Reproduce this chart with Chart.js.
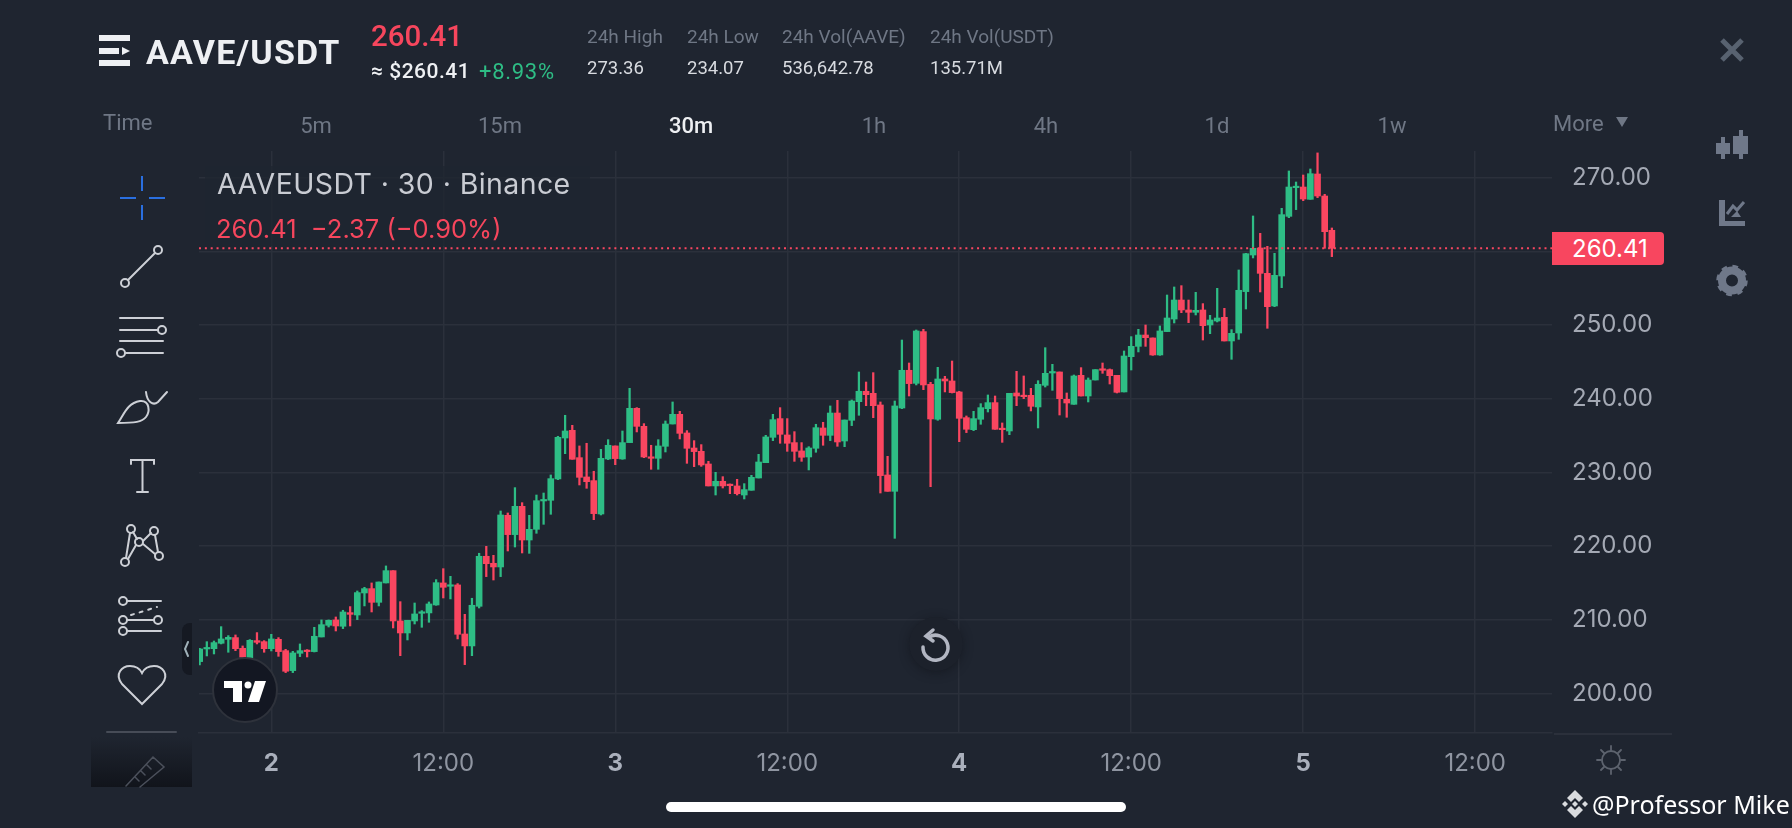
<!DOCTYPE html>
<html>
<head>
<meta charset="utf-8">
<title>AAVE/USDT</title>
<script src="https://cdn.jsdelivr.net/npm/chart.js@4"></script>
<style>
    html, body { margin: 0; padding: 0; background: #1f2530; }
    body { position: relative; width: 1792px; height: 828px; overflow: hidden; font-family: Roboto, sans-serif; }
    canvas { position: absolute; left: 0; top: 0; }
    svg { position: absolute; left: 0; top: 0; }
    .t { position: absolute; white-space: nowrap; line-height: 1; }
    .c { transform: translateX(-50%); }
    .head { font-size: 19px; color: #6f7785; }
    .val { font-size: 18.500px; color: #d8dbe0; }
    .tab { font-size: 22px; color: #6f7785; }
</style>
</head>
<body>
<canvas id="chart" width="1792" height="828"></canvas>

<!-- header -->
<div class="t" style="left:146px;top:35px;font-size:34px;font-weight:700;color:#eef0f3;letter-spacing:1.2px">AAVE/USDT</div>
<div class="t" style="left:371px;top:22px;font-size:29.500px;font-weight:500;color:#f6465d">260.41</div>
<div class="t" style="left:371px;top:61px;font-size:21px;font-weight:500;color:#eef0f3;letter-spacing:.5px">≈ $260.41</div>
<div class="t" style="left:479px;top:61px;font-size:22px;color:#2ebd85;letter-spacing:.7px">+8.93%</div>
<div class="t head" style="left:587px;top:27px">24h High</div>
<div class="t head" style="left:687px;top:27px">24h Low</div>
<div class="t head" style="left:782px;top:27px">24h Vol(AAVE)</div>
<div class="t head" style="left:930px;top:27px">24h Vol(USDT)</div>
<div class="t val" style="left:587px;top:59px">273.36</div>
<div class="t val" style="left:687px;top:59px">234.07</div>
<div class="t val" style="left:782px;top:59px">536,642.78</div>
<div class="t val" style="left:930px;top:59px">135.71M</div>

<!-- interval tabs -->
<div class="t tab" style="left:103px;top:112px">Time</div>
<div class="t tab c" style="left:316px;top:115px">5m</div>
<div class="t tab c" style="left:500px;top:115px">15m</div>
<div class="t tab c" style="left:691px;top:115px;color:#eef0f3;font-weight:500">30m</div>
<div class="t tab c" style="left:874px;top:115px">1h</div>
<div class="t tab c" style="left:1046px;top:115px">4h</div>
<div class="t tab c" style="left:1217px;top:115px">1d</div>
<div class="t tab c" style="left:1392px;top:115px">1w</div>
<div class="t tab" style="left:1553px;top:113px">More</div>

<!-- study legend -->
<div style="position:absolute;left:205px;top:166px;width:385px;height:80px;background:rgba(31,37,48,.75)"></div>
<div class="t" style="left:217px;top:170px;font-family:Inter;font-size:28.500px;color:#c9ccd3;letter-spacing:.4px">AAVEUSDT · 30 · Binance</div>
<div class="t" style="left:216px;top:216px;font-family:Inter;font-size:25.500px;color:#f6465d">260.41&nbsp; −2.37 (−0.90%)</div>

<!-- price tag -->
<div style="position:absolute;left:1552px;top:232px;width:112px;height:33px;background:#f8465f;border-radius:0 4px 4px 0"></div>
<div class="t" style="left:1572px;top:237px;font-family:Inter;font-size:24px;color:#fff">260.41</div>
<div style="position:absolute;left:1554px;top:733px;width:118px;height:1.5px;background:#2b303b"></div>

<!-- left tool bar bits -->
<div style="position:absolute;left:182px;top:623px;width:10px;height:52px;background:#151922;border-radius:8px 0 0 8px"></div>
<div style="position:absolute;left:91px;top:737px;width:101px;height:50px;background:linear-gradient(#1f2530,#11141b)"></div>
<div style="position:absolute;left:909px;top:617px;width:54px;height:54px;border-radius:50%;background:#1c212b;box-shadow:0 2px 10px rgba(15,18,24,.5)"></div>

<svg width="1792" height="828" fill="none" stroke-linecap="round">
    <!-- menu -->
    <g fill="#eef0f3" stroke="none">
        <rect x="99" y="35" width="31" height="6"/>
        <rect x="99" y="48" width="20" height="6"/>
        <polygon points="122,47 130,51 122,55"/>
        <rect x="99" y="60" width="31" height="6"/>
    </g>
    <!-- crosshair -->
    <g stroke="#2a6fe0" stroke-width="2" stroke-linecap="butt">
        <path d="M142 176V191M142 205V220M120 198H136M149 198H165"/>
    </g>
    <g stroke="#cdd0d6" stroke-width="2">
        <!-- trend line -->
        <circle cx="125" cy="283" r="4"/><circle cx="158" cy="250" r="4"/><path d="M128 280L155 253"/>
        <!-- fib -->
        <path d="M120 318H163M120 330H158M120 341H163M125 353H163"/>
        <circle cx="162" cy="330" r="4"/><circle cx="121" cy="353" r="4"/>
        <!-- brush -->
        <path d="M118 423C125 412 128 403 140 401C150 400 150 412 146 417C142 422 135 423 118 423Z"/>
        <path d="M146 392C147 402 153 406 158 402L167 392"/>
        <!-- text -->
        <path d="M131 464V460H154V464M142.500 460V492M137 492H148"/>
        <!-- pattern -->
        <circle cx="131" cy="529" r="4"/><circle cx="154" cy="531" r="4"/><circle cx="139" cy="542" r="4"/><circle cx="125" cy="562" r="4"/><circle cx="159" cy="556" r="4"/>
        <path d="M130 533L126 558M133 532L137 539M143 541L151 533M155 535L158 552M143 544L155 554M136 545L128 559"/>
        <!-- prediction -->
        <circle cx="123" cy="601" r="4"/><circle cx="123" cy="620" r="4"/><circle cx="158" cy="620" r="4"/><circle cx="123" cy="631" r="4"/>
        <path d="M127 601H161M127 620H154M127 631H161"/>
        <path d="M131 615L157 607" stroke-dasharray="3 6"/>
        <!-- heart -->
        <path d="M142 704L122 684C114 674 122 666 130 666C136 666 140 669 142 673C144 669 148 666 154 666C162 666 170 674 162 684Z"/>
    </g>
    <path d="M107 732H176" stroke="#474c57" stroke-width="2"/>
    <path d="M188 642L185 649L188 656" stroke="#9fb0b8" stroke-width="2"/>
    <!-- ruler -->
    <path d="M126 786L153 757L164 767L140 787M135 777L139 781M141 771L145 775M147 765L151 769" stroke="#4b505b" stroke-width="1.500"/>
    <!-- tradingview badge -->
    <circle cx="245" cy="690" r="32" fill="#131722" stroke="#2e323b" stroke-width="2"/>
    <g fill="#fff" stroke="none">
        <polygon points="224,681 242,681 242,702 233,702 233,688 224,688"/>
        <circle cx="248" cy="685" r="3.500"/>
        <polygon points="255,681 266,681 259,702 248,702"/>
    </g>
    <!-- replay -->
    <path d="M929 637A12.500 12.500 0 1 1 923 647" stroke="#b2b6c2" stroke-width="3.500"/>
    <path d="M933 630L926 636L933 641" stroke="#b2b6c2" stroke-width="3.500"/>
    <!-- more arrow -->
    <polygon points="1616,117 1628,117 1622,127" fill="#6f7785"/>
    <!-- right icons -->
    <path d="M1722 40L1742 60M1742 40L1722 60" stroke="#586270" stroke-width="5" stroke-linecap="butt"/>
    <g fill="#6f7889" stroke="none">
        <rect x="1716" y="143" width="14" height="11"/><rect x="1721" y="137" width="4" height="22"/>
        <rect x="1733" y="136" width="15" height="18"/><rect x="1739" y="130" width="4" height="29"/>
        <path d="M1719 200H1725V221H1745V226H1719Z"/>
        <polygon points="1731,217 1737,211 1741,217"/>
    </g>
    <path d="M1727 214L1733 206L1737 210L1744 202" stroke="#6f7889" stroke-width="3" stroke-linecap="butt"/>
    <circle cx="1732" cy="280.500" r="10" stroke="#6f7889" stroke-width="8"/>
    <circle cx="1732" cy="280.500" r="14" stroke="#6f7889" stroke-width="3.500" stroke-dasharray="5.500 5.500" stroke-linecap="butt"/>
    <!-- theme toggle -->
    <circle cx="1611" cy="760" r="9" stroke="#5d636e" stroke-width="1.800"/>
    <path d="M1611 746V750M1611 770V774M1597 760H1601M1621 760H1625M1601 750L1604 753M1618 767L1621 770M1621 750L1618 753M1604 767L1601 770" stroke="#5d636e" stroke-width="1.800"/>
    <!-- home bar -->
    <rect x="666" y="802" width="460" height="10" rx="5" fill="#fff"/>
    <!-- watermark logo -->
    <g fill="#d9dbde" stroke="none">
        <polygon points="1575,790 1583,798 1579,802 1575,798 1571,802 1567,798"/>
        <polygon points="1575,818 1583,810 1579,806 1575,810 1571,806 1567,810"/>
        <polygon points="1575,801 1578,804 1575,807 1572,804"/>
        <polygon points="1565,801 1568,804 1565,807 1562,804"/>
        <polygon points="1585,801 1588,804 1585,807 1582,804"/>
    </g>
</svg>
<div class="t" style="left:1592px;top:792px;font-family:'Noto Sans';font-size:25px;color:#fff">@Professor Mike</div>

<script>
// half-hour slots counted from the 2nd 00:00
const barSlots = [
    -10, -9, -8, -7, -6, -5, -4, -3, -2, -1,
    0, 1, 2, 3, 4, 5, 6, 7, 8, 9,
    10, 11, 12, 13, 14, 15, 16, 17, 18, 19,
    20, 21, 22, 23, 24, 25, 26, 27, 28, 29,
    30, 31, 32, 33, 34, 35, 36, 37, 38, 39,
    40, 41, 42, 43, 44, 45, 46, 47, 48, 49,
    50, 51, 52, 53, 54, 55, 56, 57, 58, 59,
    60, 61, 62, 63, 64, 65, 66, 67, 68, 69,
    70, 71, 72, 73, 74, 75, 76, 77, 78, 79,
    80, 81, 82, 83, 84, 85, 86, 87, 88, 89,
    90, 91, 92, 93, 94, 95, 96, 97, 98, 99,
    100, 101, 102, 103, 104, 105, 106, 107, 108, 109,
    110, 111, 112, 113, 114, 115, 116, 117, 118, 119,
    120, 121, 122, 123, 124, 125, 126, 127, 128, 129,
    130, 131, 132, 133, 134, 135, 136, 137, 138, 139,
    140, 141, 142, 143, 144, 145, 146, 147, 148,
];

const opens = [
    204.30, 206.02, 206.06, 206.79, 207.33, 207.56, 206.11, 204.84, 207.15, 207.01,
    206.06, 207.33, 205.79, 203.08, 205.43, 205.84, 205.66, 207.65, 209.23, 209.96,
    209.10, 210.95, 210.63, 213.62, 214.21, 212.35, 214.98, 216.65, 209.82, 208.19,
    209.82, 210.86, 210.91, 211.99, 214.98, 214.53, 214.71, 208.05, 206.43, 211.81,
    218.60, 217.65, 217.15, 224.16, 221.54, 225.38, 220.81, 222.26, 226.11, 226.20,
    229.10, 234.66, 235.70, 231.99, 229.37, 228.87, 224.34, 231.81, 233.58, 231.81,
    234.03, 238.69, 236.24, 232.08, 231.90, 233.53, 236.56, 237.87, 235.34, 233.30,
    232.85, 231.13, 228.15, 228.78, 228.37, 228.15, 226.92, 227.56, 229.23, 231.31,
    234.75, 237.29, 235.07, 234.03, 232.90, 232.08, 233.26, 236.02, 235.02, 238.05,
    234.25, 237.06, 239.59, 241.00, 240.72, 239.14, 229.64, 227.42, 238.73, 243.85,
    242.08, 249.10, 241.95, 237.20, 242.67, 242.40, 240.91, 237.42, 235.79, 237.20,
    238.64, 239.46, 235.97, 235.61, 240.77, 240.45, 240.45, 238.87, 241.81, 243.48,
    243.62, 239.91, 239.23, 243.17, 240.36, 242.53, 243.98, 243.94, 243.17, 240.91,
    245.70, 247.10, 248.64, 248.24, 245.93, 249.10, 250.81, 253.39, 252.04, 251.72,
    252.04, 250.00, 250.54, 251.04, 247.83, 248.91, 254.53, 259.50, 260.45, 257.01,
    252.58, 256.65, 264.75, 268.64, 268.73, 267.06, 270.50, 267.51, 262.85,
];

const highs = [
    206.11, 207.01, 207.10, 209.05, 207.83, 207.92, 206.43, 207.29, 208.24, 207.15,
    208.01, 207.56, 205.97, 205.70, 206.70, 205.93, 208.96, 209.96, 209.96, 210.36,
    211.27, 211.77, 213.89, 214.39, 214.98, 215.11, 217.29, 216.65, 212.44, 209.91,
    212.26, 211.22, 212.40, 215.43, 216.92, 215.88, 214.89, 210.72, 212.90, 219.01,
    219.95, 218.73, 224.75, 224.48, 227.92, 225.88, 224.16, 226.92, 227.19, 229.64,
    234.89, 237.74, 236.38, 233.58, 233.94, 230.14, 233.12, 234.43, 233.58, 235.61,
    241.40, 238.78, 236.61, 233.67, 234.43, 236.97, 239.55, 238.28, 235.66, 234.30,
    233.76, 231.49, 230.00, 229.41, 228.42, 229.05, 228.46, 229.59, 232.44, 235.02,
    237.87, 238.78, 237.29, 235.52, 234.03, 233.48, 236.52, 236.79, 239.01, 239.77,
    237.10, 239.82, 243.62, 242.26, 243.53, 239.55, 232.17, 239.68, 247.96, 244.84,
    249.32, 249.41, 242.22, 244.25, 243.03, 245.11, 241.00, 237.65, 238.28, 239.32,
    240.50, 240.36, 236.70, 240.72, 243.71, 243.08, 241.40, 242.44, 246.92, 244.66,
    243.62, 240.77, 243.21, 244.21, 242.81, 243.94, 244.84, 244.03, 243.17, 246.47,
    248.42, 249.41, 250.00, 248.24, 249.87, 254.07, 255.16, 255.34, 253.39, 254.43,
    252.90, 251.31, 254.98, 252.26, 249.37, 257.47, 259.73, 264.80, 262.44, 260.68,
    259.73, 265.84, 270.91, 269.41, 270.36, 271.18, 273.36, 267.74, 263.17,
];

const lows = [
    203.85, 205.07, 205.34, 206.70, 205.57, 205.79, 204.66, 204.75, 206.70, 205.57,
    205.75, 205.02, 202.81, 202.81, 204.98, 204.93, 205.61, 207.65, 209.00, 208.46,
    208.78, 209.14, 210.00, 211.86, 211.04, 211.86, 214.98, 208.87, 205.11, 207.24,
    209.41, 208.96, 209.64, 211.95, 212.94, 212.81, 207.38, 203.89, 205.11, 211.58,
    215.84, 215.38, 215.84, 219.32, 219.86, 219.05, 219.00, 221.72, 222.94, 224.30,
    229.00, 232.53, 231.77, 228.28, 227.83, 223.57, 224.21, 231.72, 231.04, 231.77,
    234.03, 235.48, 231.99, 230.41, 230.41, 232.76, 236.56, 234.53, 231.22, 230.77,
    230.81, 228.15, 226.92, 227.87, 227.10, 226.92, 226.38, 227.56, 229.23, 231.31,
    234.30, 233.94, 232.85, 231.49, 231.49, 230.32, 232.72, 233.67, 234.30, 233.53,
    233.48, 236.34, 237.74, 239.05, 237.42, 227.19, 227.42, 221.04, 238.64, 240.36,
    241.86, 241.22, 228.05, 237.06, 240.91, 240.77, 234.16, 235.39, 235.66, 236.52,
    238.19, 235.84, 234.07, 235.11, 239.05, 240.00, 238.33, 236.02, 241.58, 241.13,
    237.78, 237.47, 239.23, 240.36, 239.55, 242.53, 243.44, 241.99, 240.77, 240.91,
    243.89, 246.34, 247.10, 245.88, 245.88, 249.10, 250.27, 251.67, 250.32, 251.36,
    247.96, 248.82, 250.41, 247.83, 245.34, 248.05, 252.17, 259.10, 254.48, 249.55,
    252.49, 255.07, 264.57, 265.66, 266.88, 267.06, 267.29, 260.41, 259.28,
];

const closes = [
    206.02, 206.20, 206.88, 207.38, 207.60, 206.06, 204.89, 207.19, 206.92, 206.06,
    207.38, 205.66, 202.99, 205.48, 205.79, 205.66, 207.74, 209.32, 209.91, 209.14,
    211.04, 210.72, 213.67, 214.21, 212.35, 215.11, 216.65, 209.82, 208.19, 209.91,
    210.77, 211.04, 212.13, 215.02, 214.39, 214.71, 208.01, 206.43, 211.95, 218.60,
    217.60, 217.15, 224.21, 221.54, 225.38, 220.81, 222.26, 226.15, 226.24, 229.14,
    234.75, 235.61, 231.77, 229.32, 228.73, 224.39, 231.90, 233.67, 231.86, 234.03,
    238.69, 236.24, 232.08, 231.90, 233.58, 236.56, 237.87, 235.29, 233.26, 232.81,
    231.00, 228.15, 228.78, 228.15, 228.19, 227.10, 227.65, 229.32, 231.40, 234.80,
    237.15, 235.16, 233.94, 232.85, 232.04, 233.30, 236.06, 235.02, 238.05, 234.12,
    237.10, 239.68, 241.00, 240.54, 239.05, 229.55, 227.42, 239.01, 243.85, 242.04,
    249.19, 241.86, 237.24, 242.67, 242.40, 240.82, 237.33, 235.84, 237.29, 238.78,
    239.46, 235.84, 235.79, 240.72, 240.36, 240.27, 238.96, 241.95, 243.44, 243.62,
    240.00, 239.41, 243.08, 240.36, 242.53, 243.94, 243.85, 243.12, 240.86, 245.79,
    247.10, 248.64, 248.28, 245.93, 249.19, 250.95, 253.39, 252.04, 251.72, 251.99,
    249.91, 250.68, 250.95, 247.83, 248.87, 254.71, 259.68, 260.41, 257.01, 252.49,
    256.74, 264.98, 268.73, 268.82, 267.10, 270.54, 267.51, 262.67, 260.41,
];

const xTickSlots = [0, 24, 48, 72, 96, 120, 144, 168];
const xTickLabels = ['2', '12:00', '3', '12:00', '4', '12:00', '5', '12:00'];
const priceTicks = [200, 210, 220, 230, 240, 250, 260, 270];
const lastPrice = 260.41;

const UP = '#2ebd85';
const DOWN = '#fa4660';
const GRID = '#2b303b';
const SLOT_MIN = -10.09;
const SLOT_MAX = 178.72;

const barColors = barSlots.map((_, i) => (closes[i] < opens[i] ? DOWN : UP));

new Chart(document.getElementById('chart'), {
    type: 'bar',
    data: {
        datasets: [
            {
                // last price dotted line
                type: 'line',
                data: [{ x: SLOT_MIN, y: lastPrice }, { x: SLOT_MAX, y: lastPrice }],
                borderColor: DOWN,
                borderWidth: 2,
                borderDash: [2, 3.85],
                pointRadius: 0,
                order: 1,
            },
            {
                data: barSlots.map((s, i) => ({ x: s, y: [opens[i], closes[i]] })),
                backgroundColor: barColors,
                barThickness: 6,
                minBarLength: 1.5,
                grouped: false,
                order: 2,
            },
            {
                data: barSlots.map((s, i) => ({ x: s, y: [lows[i], highs[i]] })),
                backgroundColor: barColors,
                barThickness: 1.6,
                grouped: false,
                order: 3,
            },
        ],
    },
    options: {
        responsive: false,
        animation: false,
        events: [],
        layout: { padding: { left: 199, top: 151, right: 0, bottom: 0 } },
        plugins: { legend: { display: false }, tooltip: { enabled: false } },
        scales: {
            x: {
                type: 'linear',
                offset: false,
                min: SLOT_MIN,
                max: SLOT_MAX,
                afterBuildTicks: scale => { scale.ticks = xTickSlots.map(v => ({ value: v })); },
                afterFit: scale => { scale.height = 95; },
                grid: { color: GRID, lineWidth: 1.5, offset: false, drawTicks: false },
                border: { color: GRID, width: 1.5 },
                ticks: {
                    autoSkip: false,
                    maxRotation: 0,
                    padding: 16,
                    color: ctx => (ctx.index % 2 ? '#8f95a1' : '#aab0bc'),
                    font: ctx => (ctx.index % 2
                        ? { family: 'Inter', size: 24 }
                        : { family: 'Inter', size: 24, weight: 'bold' }),
                    callback: (value, index) => xTickLabels[index],
                },
            },
            y: {
                position: 'right',
                min: 194.61,
                max: 273.62,
                afterBuildTicks: scale => { scale.ticks = priceTicks.map(v => ({ value: v })); },
                afterFit: scale => { scale.width = 240; },
                grid: { color: GRID, lineWidth: 1.5, drawTicks: false },
                border: { display: false },
                ticks: {
                    padding: 20,
                    color: '#a4a9b4',
                    font: { family: 'Inter', size: 24 },
                    callback: value => value.toFixed(2),
                },
            },
        },
    },
});
</script>
</body>
</html>
